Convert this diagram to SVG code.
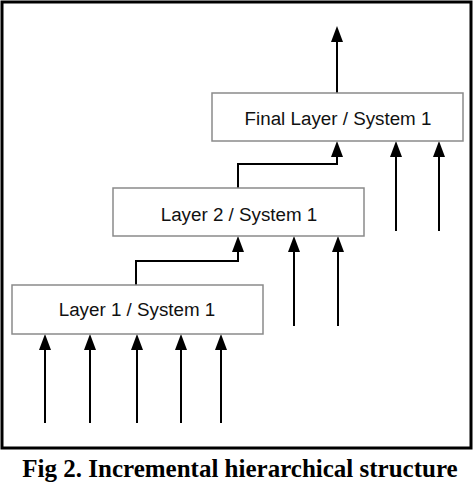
<svg xmlns="http://www.w3.org/2000/svg" width="474" height="484" viewBox="0 0 474 484">
<defs>
<marker id="ah" viewBox="0 0 16 12" refX="8" refY="6" markerWidth="16" markerHeight="12" markerUnits="userSpaceOnUse" orient="auto">
<path d="M0,0 L16,6 L0,12 z" fill="#000"/>
</marker>
<style>
.box{fill:#fff;stroke:#8a8a8a;stroke-width:1.5}
.lbl{font-family:"Liberation Sans",Arial,sans-serif;font-size:18.8px;fill:#111;text-anchor:middle}
.c{fill:none;stroke:#000;stroke-width:2;marker-end:url(#ah)}
.cap{font-family:"Liberation Serif","Times New Roman",serif;font-size:25px;font-weight:bold;fill:#000;text-anchor:middle}
</style>
</defs>
<rect width="474" height="484" fill="#fff"/>
<rect x="2" y="2" width="469" height="446" fill="none" stroke="#000" stroke-width="3"/>
<g id="connectors">
<path class="c" d="M337,93 V34"/>
<path class="c" d="M396,231 V149"/>
<path class="c" d="M439,231 V149"/>
<path class="c" d="M238,188 V164 H337 V149"/>
<path class="c" d="M136,285 V261 H238 V244"/>
<path class="c" d="M294,326 V244"/>
<path class="c" d="M338,326 V244"/>
<path class="c" d="M45,423 V342"/>
<path class="c" d="M90,423 V342"/>
<path class="c" d="M137,423 V342"/>
<path class="c" d="M181,423 V342"/>
<path class="c" d="M221,423 V342"/>
</g>
<g id="final">
<rect class="box" x="212" y="93" width="251" height="48"/>
<text class="lbl" x="338" y="125">Final Layer / System 1</text>
</g>
<g id="layer2">
<rect class="box" x="113" y="188" width="251" height="48"/>
<text class="lbl" x="239" y="221">Layer 2 / System 1</text>
</g>
<g id="layer1">
<rect class="box" x="12" y="285" width="251" height="49"/>
<text class="lbl" x="137" y="316">Layer 1 / System 1</text>
</g>
<text class="cap" x="240" y="477">Fig 2. Incremental hierarchical structure</text>
</svg>
